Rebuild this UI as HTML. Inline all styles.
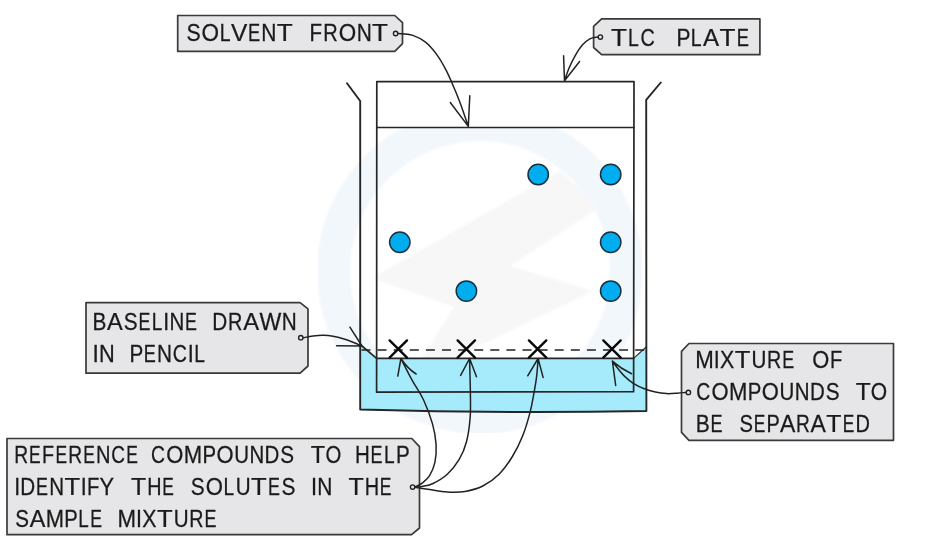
<!DOCTYPE html>
<html>
<head>
<meta charset="utf-8">
<style>
html,body{margin:0;padding:0;background:#fff;}
body{width:931px;height:541px;overflow:hidden;font-family:"Liberation Sans",sans-serif;}
svg{display:block;filter:blur(0.4px);}
text{font-family:"Liberation Sans",sans-serif;font-size:23.2px;fill:#1a1a1a;stroke:#1a1a1a;stroke-width:0.25px;vector-effect:non-scaling-stroke;}
.bk{fill:none;stroke:#262626;stroke-width:1.9;stroke-linecap:round;stroke-linejoin:round;}
.ln{fill:none;stroke:#262626;stroke-width:1.7;stroke-linecap:round;stroke-linejoin:round;}
.ar{fill:none;stroke:#222;stroke-width:1.5;stroke-linecap:round;stroke-linejoin:round;}
.lab{fill:#e6e6e8;stroke:#3a3a3a;stroke-width:1.7;stroke-linejoin:round;}
.dot{fill:#00aeef;stroke:#1a2f3c;stroke-width:1.5;}
.x{fill:none;stroke:#0a0a0a;stroke-width:2.4;stroke-linecap:round;}
.pin{fill:#e6e6e8;stroke:#222;stroke-width:1.4;}
</style>
</head>
<body>
<svg width="931" height="541" viewBox="0 0 931 541">
<rect width="931" height="541" fill="#ffffff"/>
<!-- watermark -->
<defs><filter id="wb" x="-5%" y="-5%" width="110%" height="110%"><feGaussianBlur stdDeviation="1.2"/></filter></defs>
<g filter="url(#wb)">
<circle cx="480" cy="271" r="146.5" fill="#ffffff" stroke="#f2f7fc" stroke-width="33"/>
<path d="M560 171 L600 207 L510 266 L593 291 L408 380 L454 307 L372 278 Z" fill="#f7f7f8"/>
</g>
<rect x="376.8" y="81.6" width="257" height="45.9" fill="#ffffff"/>

<!-- liquid -->
<path d="M360.2 345.5 L376.6 358.4 L633.6 358.4 L646.2 347 L646.4 411 Q500 413.6 360.2 409.5 Z" fill="#a6ebfb"/>
<!-- beaker -->
<path class="bk" d="M347 83.2 L360.2 101 L360.2 409.5 Q500 413.6 646.4 411 L646.2 99.8 L660.8 82.5"/>
<!-- plate -->
<path class="ln" d="M376.8 81.6 L634 81.6 L633.6 391.7 L376.6 392.2 Z"/>
<path class="ln" d="M376.8 127.5 L634 127.5"/>
<path class="ln" d="M360.2 344.5 L376.6 358.4 L633.6 358.4"/>
<path class="ln" style="stroke-width:1.1" d="M633.6 358.4 L646.2 347"/>
<path d="M361.5 350 L646 350" fill="none" stroke="#222" stroke-width="1.5" stroke-dasharray="9 7.1"/>

<circle class="dot" cx="538.2" cy="174.5" r="10.2"/>
<circle class="dot" cx="610.7" cy="174.5" r="10.2"/>
<circle class="dot" cx="399.8" cy="242.3" r="10.2"/>
<circle class="dot" cx="610.7" cy="242.3" r="10.2"/>
<circle class="dot" cx="466.4" cy="291.1" r="10.2"/>
<circle class="dot" cx="610.7" cy="291.1" r="10.2"/>
<path class="x" d="M389.6 340.4 L407.0 357.6 M407.0 340.4 L389.6 357.6"/>
<path class="x" d="M457.6 340.4 L475.0 357.6 M475.0 340.4 L457.6 357.6"/>
<path class="x" d="M528.9 340.4 L546.3 357.6 M546.3 340.4 L528.9 357.6"/>
<path class="x" d="M603.3 340.4 L620.7 357.6 M620.7 340.4 L603.3 357.6"/>
<!-- labels -->
<path class="lab" d="M177.7 15.5 L394.8 15.5 L402.5 22.6 L402.5 43.6 L394.8 51.3 L177.7 51.3 Z"/>
<path class="lab" d="M601.6 18.8 L759.9 18.8 L759.9 54.7 L601.6 54.7 L593.6 47.5 L593.6 26.3 Z"/>
<path class="lab" d="M86 302.7 L300.1 302.7 L308 308.9 L308 366 L300.1 373.2 L86 373.2 Z"/>
<path class="lab" d="M7 438.5 L411.8 438.5 L419.5 446.6 L419.5 528 L411.6 534.7 L7 534.7 Z"/>
<path class="lab" d="M689 343.5 L893.5 343.5 L893.5 440.3 L689 440.3 L681.5 432.3 L681.5 351.4 Z"/>

<path class="ar" d="M398.2 33.5 C400.5 33.8 407.6 33.6 412.2 35.1 C416.8 36.6 421.4 39.0 425.5 42.2 C429.6 45.4 433.3 50.0 436.6 54.4 C439.9 58.8 442.8 64.0 445.4 68.8 C448.0 73.6 449.7 77.7 452.1 83.2 C454.5 88.7 457.1 94.8 459.8 102.0 C462.5 109.2 466.9 122.3 468.3 126.4 M450.3 102.5 L468.3 126.4 L469.8 95.8"/>
<path class="ar" d="M597.8 37.1 C596.5 37.4 592.4 37.5 589.9 38.8 C587.4 40.1 585.0 42.0 582.5 44.8 C580.0 47.6 577.3 52.0 575.1 55.8 C572.9 59.6 571.0 63.6 569.2 67.7 C567.4 71.9 565.3 78.5 564.5 80.7 M563.6 55.8 L564.5 80.7 L579.6 61.5"/>
<path class="ar" d="M303.6 337.7 C305.2 337.4 309.7 336.4 313.0 336.0 C316.3 335.6 320.0 335.2 323.3 335.3 C326.6 335.4 329.7 335.7 333.0 336.3 C336.3 336.9 339.9 337.8 343.2 338.8 C346.5 339.8 349.9 341.0 353.0 342.2 C356.1 343.4 360.5 345.4 362.0 346.0 M349.9 327.2 L362.0 346.0 L336.6 345.7"/>
<path class="ar" d="M685.6 392.4 C684.3 392.5 680.8 393.0 677.6 393.2 C674.4 393.4 670.2 393.8 666.5 393.6 C662.8 393.4 659.1 392.9 655.4 392.1 C651.7 391.3 648.0 390.3 644.3 388.8 C640.6 387.3 636.6 385.4 633.3 383.3 C630.0 381.2 627.0 378.6 624.4 376.1 C621.8 373.6 619.7 370.8 617.7 368.3 C615.7 365.8 613.3 362.3 612.4 361.1 M615.7 385.5 L612.4 361.1 Q621 368.8 631.6 373.8"/>
<path class="ar" d="M415.0 487.0 C416.2 486.4 419.8 485.0 422.2 483.1 C424.6 481.2 427.5 479.1 429.6 475.7 C431.7 472.2 433.8 467.6 434.9 462.4 C436.0 457.2 436.5 451.0 436.1 444.6 C435.7 438.2 434.6 431.3 432.5 423.9 C430.4 416.5 427.1 407.7 423.7 400.3 C420.2 392.9 415.6 386.6 411.8 379.6 C408.0 372.6 402.7 362.0 400.9 358.5 M397.8 376.1 L400.9 358.5 Q408 369 416.1 374"/>
<path class="ar" d="M415.0 487.1 C415.9 487.0 417.8 487.3 420.7 486.7 C423.6 486.1 428.1 485.8 432.5 483.7 C436.9 481.6 442.9 478.2 447.3 474.2 C451.8 470.1 456.0 464.8 459.2 459.4 C462.4 454.0 464.7 448.6 466.5 441.7 C468.3 434.8 469.5 425.9 470.1 418.0 C470.8 410.1 470.5 404.3 470.4 394.4 C470.3 384.5 469.7 364.5 469.6 358.5 M460.6 375.4 L469.6 358.5 L476.5 376.7"/>
<path class="ar" d="M415.0 487.3 C417.4 487.7 424.2 488.8 429.6 489.6 C435.0 490.4 441.4 491.7 447.3 492.0 C453.2 492.3 459.2 492.4 465.1 491.4 C471.0 490.4 477.1 488.9 482.8 486.0 C488.5 483.1 494.2 479.1 499.1 474.2 C504.0 469.3 508.5 462.9 512.4 456.5 C516.3 450.1 519.8 443.2 522.7 435.8 C525.7 428.4 528.3 419.0 530.1 412.1 C531.9 405.2 532.6 400.3 533.7 394.4 C534.8 388.5 535.9 382.6 536.6 376.6 C537.3 370.6 537.9 361.5 538.1 358.5 M527.7 375.8 L538.1 358.5 L543.1 377.4"/>
<circle class="pin" cx="395.6" cy="33.5" r="2.2"/>
<circle class="pin" cx="600.4" cy="37.1" r="2.2"/>
<circle class="pin" cx="300.8" cy="337.7" r="2.2"/>
<circle class="pin" cx="412.6" cy="487.1" r="2.2"/>
<circle class="pin" cx="688.4" cy="392.4" r="2.2"/>
<g><text transform="translate(186.44 41.3) scale(0.916 1)">S</text><text transform="translate(201.52 41.3) scale(0.972 1)">O</text><text transform="translate(219.75 41.3) scale(0.837 1)">L</text><text transform="translate(230.93 41.3) scale(1.055 1)">V</text><text transform="translate(247.89 41.3) scale(0.786 1)">E</text><text transform="translate(261.32 41.3) scale(0.905 1)">N</text><text transform="translate(276.83 41.3) scale(1.127 1)">T</text></g>
<g><text transform="translate(309.41 41.3) scale(0.886 1)">F</text><text transform="translate(323.26 41.3) scale(0.862 1)">R</text><text transform="translate(338.65 41.3) scale(0.967 1)">O</text><text transform="translate(356.67 41.3) scale(0.900 1)">N</text><text transform="translate(372.10 41.3) scale(1.122 1)">T</text></g>
<g><text transform="translate(611.01 45.6) scale(1.124 1)">T</text><text transform="translate(628.11 45.6) scale(0.835 1)">L</text><text transform="translate(640.59 45.6) scale(0.851 1)">C</text></g>
<g><text transform="translate(676.49 45.6) scale(0.901 1)">P</text><text transform="translate(690.79 45.6) scale(0.838 1)">L</text><text transform="translate(703.05 45.6) scale(1.041 1)">A</text><text transform="translate(719.55 45.6) scale(1.128 1)">T</text><text transform="translate(736.80 45.6) scale(0.787 1)">E</text></g>
<g><text transform="translate(92.60 330.3) scale(0.895 1)">B</text><text transform="translate(107.10 330.3) scale(1.017 1)">A</text><text transform="translate(123.64 330.3) scale(0.895 1)">S</text><text transform="translate(138.46 330.3) scale(0.768 1)">E</text><text transform="translate(151.71 330.3) scale(0.818 1)">L</text><text transform="translate(163.35 330.3) scale(0.921 1)">I</text><text transform="translate(169.42 330.3) scale(0.884 1)">N</text><text transform="translate(184.88 330.3) scale(0.768 1)">E</text></g>
<g><text transform="translate(212.30 330.3) scale(0.894 1)">D</text><text transform="translate(227.99 330.3) scale(0.856 1)">R</text><text transform="translate(243.17 330.3) scale(1.028 1)">A</text><text transform="translate(259.54 330.3) scale(0.997 1)">W</text><text transform="translate(281.81 330.3) scale(0.894 1)">N</text></g>
<g><text transform="translate(92.51 361.8) scale(0.978 1)">I</text><text transform="translate(98.95 361.8) scale(0.939 1)">N</text></g>
<g><text transform="translate(129.50 361.8) scale(0.891 1)">P</text><text transform="translate(143.75 361.8) scale(0.779 1)">E</text><text transform="translate(157.06 361.8) scale(0.896 1)">N</text><text transform="translate(172.81 361.8) scale(0.845 1)">C</text><text transform="translate(187.86 361.8) scale(0.933 1)">I</text><text transform="translate(194.14 361.8) scale(0.829 1)">L</text></g>
<g><text transform="translate(14.23 463.4) scale(0.828 1)">R</text><text transform="translate(29.08 463.4) scale(0.752 1)">E</text><text transform="translate(41.95 463.4) scale(0.851 1)">F</text><text transform="translate(55.39 463.4) scale(0.752 1)">E</text><text transform="translate(68.30 463.4) scale(0.828 1)">R</text><text transform="translate(83.16 463.4) scale(0.752 1)">E</text><text transform="translate(96.00 463.4) scale(0.865 1)">N</text><text transform="translate(111.20 463.4) scale(0.816 1)">C</text><text transform="translate(126.22 463.4) scale(0.752 1)">E</text></g>
<g><text transform="translate(151.02 463.4) scale(0.831 1)">C</text><text transform="translate(166.25 463.4) scale(0.947 1)">O</text><text transform="translate(183.75 463.4) scale(0.953 1)">M</text><text transform="translate(202.46 463.4) scale(0.877 1)">P</text><text transform="translate(216.40 463.4) scale(0.947 1)">O</text><text transform="translate(234.13 463.4) scale(0.882 1)">U</text><text transform="translate(249.42 463.4) scale(0.881 1)">N</text><text transform="translate(264.61 463.4) scale(0.882 1)">D</text><text transform="translate(280.34 463.4) scale(0.892 1)">S</text></g>
<g><text transform="translate(310.87 463.4) scale(1.014 1)">T</text><text transform="translate(325.39 463.4) scale(0.875 1)">O</text></g>
<g><text transform="translate(355.02 463.4) scale(0.885 1)">H</text><text transform="translate(370.51 463.4) scale(0.776 1)">E</text><text transform="translate(383.89 463.4) scale(0.826 1)">L</text><text transform="translate(395.95 463.4) scale(0.888 1)">P</text></g>
<g><text transform="translate(14.22 495.4) scale(0.924 1)">I</text><text transform="translate(20.31 495.4) scale(0.888 1)">D</text><text transform="translate(36.03 495.4) scale(0.771 1)">E</text><text transform="translate(49.21 495.4) scale(0.887 1)">N</text><text transform="translate(64.42 495.4) scale(1.105 1)">T</text><text transform="translate(80.82 495.4) scale(0.924 1)">I</text><text transform="translate(86.94 495.4) scale(0.873 1)">F</text><text transform="translate(99.52 495.4) scale(0.941 1)">Y</text></g>
<g><text transform="translate(131.04 495.4) scale(1.072 1)">T</text><text transform="translate(147.23 495.4) scale(0.853 1)">H</text><text transform="translate(162.17 495.4) scale(0.748 1)">E</text></g>
<g><text transform="translate(190.85 495.4) scale(0.899 1)">S</text><text transform="translate(205.67 495.4) scale(0.954 1)">O</text><text transform="translate(223.57 495.4) scale(0.822 1)">L</text><text transform="translate(235.65 495.4) scale(0.889 1)">U</text><text transform="translate(250.98 495.4) scale(1.106 1)">T</text><text transform="translate(267.91 495.4) scale(0.772 1)">E</text><text transform="translate(281.44 495.4) scale(0.899 1)">S</text></g>
<g><text transform="translate(311.09 495.4) scale(0.940 1)">I</text><text transform="translate(317.28 495.4) scale(0.903 1)">N</text></g>
<g><text transform="translate(348.44 495.4) scale(1.079 1)">T</text><text transform="translate(364.75 495.4) scale(0.859 1)">H</text><text transform="translate(379.79 495.4) scale(0.753 1)">E</text></g>
<g><text transform="translate(15.27 527.3) scale(0.887 1)">S</text><text transform="translate(29.78 527.3) scale(1.008 1)">A</text><text transform="translate(45.69 527.3) scale(0.948 1)">M</text><text transform="translate(64.30 527.3) scale(0.871 1)">P</text><text transform="translate(78.14 527.3) scale(0.811 1)">L</text><text transform="translate(90.17 527.3) scale(0.762 1)">E</text></g>
<g><text transform="translate(117.47 527.3) scale(0.960 1)">M</text><text transform="translate(136.02 527.3) scale(0.924 1)">I</text><text transform="translate(142.22 527.3) scale(0.919 1)">X</text><text transform="translate(156.92 527.3) scale(1.105 1)">T</text><text transform="translate(173.71 527.3) scale(0.888 1)">U</text><text transform="translate(189.18 527.3) scale(0.849 1)">R</text><text transform="translate(204.43 527.3) scale(0.771 1)">E</text></g>
<g><text transform="translate(695.27 368.3) scale(0.960 1)">M</text><text transform="translate(713.82 368.3) scale(0.924 1)">I</text><text transform="translate(720.02 368.3) scale(0.919 1)">X</text><text transform="translate(734.72 368.3) scale(1.105 1)">T</text><text transform="translate(751.51 368.3) scale(0.888 1)">U</text><text transform="translate(766.98 368.3) scale(0.849 1)">R</text><text transform="translate(782.23 368.3) scale(0.771 1)">E</text></g>
<g><text transform="translate(812.36 368.3) scale(0.943 1)">O</text><text transform="translate(829.96 368.3) scale(0.864 1)">F</text></g>
<g><text transform="translate(696.32 400.3) scale(0.832 1)">C</text><text transform="translate(711.56 400.3) scale(0.947 1)">O</text><text transform="translate(729.07 400.3) scale(0.954 1)">M</text><text transform="translate(747.80 400.3) scale(0.877 1)">P</text><text transform="translate(761.74 400.3) scale(0.947 1)">O</text><text transform="translate(779.49 400.3) scale(0.882 1)">U</text><text transform="translate(794.79 400.3) scale(0.882 1)">N</text><text transform="translate(809.99 400.3) scale(0.882 1)">D</text><text transform="translate(825.74 400.3) scale(0.893 1)">S</text></g>
<g><text transform="translate(855.75 400.3) scale(1.053 1)">T</text><text transform="translate(870.82 400.3) scale(0.908 1)">O</text></g>
<g><text transform="translate(695.68 432.1) scale(0.906 1)">B</text><text transform="translate(710.54 432.1) scale(0.778 1)">E</text></g>
<g><text transform="translate(739.38 432.1) scale(0.871 1)">S</text><text transform="translate(753.81 432.1) scale(0.748 1)">E</text><text transform="translate(766.60 432.1) scale(0.856 1)">P</text><text transform="translate(780.12 432.1) scale(0.990 1)">A</text><text transform="translate(795.95 432.1) scale(0.824 1)">R</text><text transform="translate(810.57 432.1) scale(0.990 1)">A</text><text transform="translate(826.25 432.1) scale(1.072 1)">T</text><text transform="translate(842.65 432.1) scale(0.748 1)">E</text><text transform="translate(855.43 432.1) scale(0.861 1)">D</text></g>
</svg>
</body>
</html>
